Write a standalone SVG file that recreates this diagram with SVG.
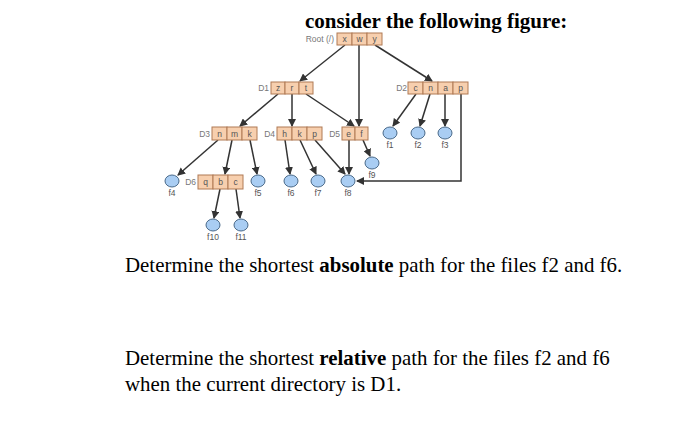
<svg xmlns="http://www.w3.org/2000/svg" width="700" height="438" viewBox="0 0 700 438">
<defs><marker id="a" markerWidth="8" markerHeight="8" refX="7" refY="4" orient="auto" markerUnits="userSpaceOnUse"><path d="M0,0L8,4L0,8z" fill="#333"/></marker>
<style>.c{fill:#f7cfae;stroke:#b07a55;stroke-width:1}.t{font-family:"Liberation Sans",sans-serif;font-size:8.5px;fill:#555;text-anchor:middle}.l{font-family:"Liberation Sans",sans-serif;font-size:8.5px;fill:#777}.f{fill:#a9cdf3;stroke:#4a6a8a;stroke-width:1}.e line,.e path{stroke:#333;stroke-width:1.5;fill:none;marker-end:url(#a)}.s{font-family:"Liberation Serif",serif;font-size:20.9px;fill:#000}</style></defs>
<rect width="700" height="438" fill="#fff"/>
<text x="305" y="28" font-family="Liberation Serif,serif" font-size="21" font-weight="bold">consider the following figure:</text>
<g id="edges" class="e">
<line x1="345" y1="45" x2="300" y2="81"/><line x1="359" y1="45" x2="359" y2="126"/><line x1="375" y1="45" x2="432" y2="81"/>
<line x1="278" y1="94" x2="240" y2="126"/><line x1="292" y1="94" x2="292" y2="126"/><line x1="306" y1="94" x2="354" y2="126"/>
<line x1="416" y1="94" x2="393" y2="126"/><line x1="430" y1="94" x2="420" y2="126"/><line x1="445" y1="94" x2="445" y2="126"/>
<path d="M461,94V181H357"/>
<line x1="218" y1="140" x2="178" y2="175"/><line x1="232" y1="140" x2="225" y2="174"/><line x1="250" y1="140" x2="257" y2="174"/>
<line x1="285" y1="140" x2="290" y2="174"/><line x1="300" y1="140" x2="316" y2="174"/><line x1="315" y1="140" x2="345" y2="174"/>
<line x1="349" y1="140" x2="349" y2="174"/><line x1="363" y1="140" x2="370" y2="156"/>
<line x1="220" y1="189" x2="214" y2="218"/><line x1="236" y1="189" x2="240" y2="218"/>
</g>
<g id="root"><text x="334" y="42" class="l" text-anchor="end">Root (/)</text><rect class="c" x="337" y="33" width="15" height="12"/><rect class="c" x="352" y="33" width="15" height="12"/><rect class="c" x="367" y="33" width="15" height="12"/><text class="t" x="344.5" y="42">x</text><text class="t" x="359.5" y="42">w</text><text class="t" x="374.5" y="42">y</text></g>
<g id="D1"><text x="269" y="91" class="l" text-anchor="end">D1</text><rect class="c" x="271" y="82" width="14" height="12"/><rect class="c" x="285" y="82" width="14" height="12"/><rect class="c" x="299" y="82" width="14" height="12"/><text class="t" x="278" y="91">z</text><text class="t" x="292" y="91">r</text><text class="t" x="306" y="91">t</text></g>
<g id="D2"><text x="407" y="91" class="l" text-anchor="end">D2</text><rect class="c" x="408" y="82" width="15" height="12"/><rect class="c" x="423" y="82" width="15" height="12"/><rect class="c" x="438" y="82" width="15" height="12"/><rect class="c" x="453" y="82" width="15" height="12"/><text class="t" x="415.5" y="91">c</text><text class="t" x="430.5" y="91">n</text><text class="t" x="445.5" y="91">a</text><text class="t" x="460.5" y="91">p</text></g>
<g id="D3"><text x="210" y="137" class="l" text-anchor="end">D3</text><rect class="c" x="212" y="127" width="15" height="13"/><rect class="c" x="227" y="127" width="15" height="13"/><rect class="c" x="242" y="127" width="15" height="13"/><text class="t" x="219.5" y="137">n</text><text class="t" x="234.5" y="137">m</text><text class="t" x="249.5" y="137">k</text></g>
<g id="D4"><text x="275" y="137" class="l" text-anchor="end">D4</text><rect class="c" x="277" y="127" width="15" height="13"/><rect class="c" x="292" y="127" width="15" height="13"/><rect class="c" x="307" y="127" width="15" height="13"/><text class="t" x="284.5" y="137">h</text><text class="t" x="299.5" y="137">k</text><text class="t" x="314.5" y="137">p</text></g>
<g id="D5"><text x="340" y="137" class="l" text-anchor="end">D5</text><rect class="c" x="342" y="127" width="13" height="13"/><rect class="c" x="355" y="127" width="13" height="13"/><text class="t" x="348.5" y="137">e</text><text class="t" x="361.5" y="137">f</text></g>
<g id="D6"><text x="196" y="185" class="l" text-anchor="end">D6</text><rect class="c" x="198" y="175" width="15" height="14"/><rect class="c" x="213" y="175" width="15" height="14"/><rect class="c" x="228" y="175" width="15" height="14"/><text class="t" x="205.5" y="185">q</text><text class="t" x="220.5" y="185">b</text><text class="t" x="235.5" y="185">c</text></g>
<g id="f1"><ellipse class="f" cx="390" cy="133" rx="7" ry="6"/><text class="t" x="390" y="148">f1</text></g>
<g id="f2"><ellipse class="f" cx="418" cy="133" rx="7" ry="6"/><text class="t" x="418" y="148">f2</text></g>
<g id="f3"><ellipse class="f" cx="445" cy="133" rx="7" ry="6"/><text class="t" x="445" y="148">f3</text></g>
<g id="f4"><ellipse class="f" cx="172" cy="181" rx="7" ry="6"/><text class="t" x="172" y="196">f4</text></g>
<g id="f5"><ellipse class="f" cx="258" cy="181" rx="7" ry="6"/><text class="t" x="258" y="196">f5</text></g>
<g id="f6"><ellipse class="f" cx="291" cy="181" rx="7" ry="6"/><text class="t" x="291" y="196">f6</text></g>
<g id="f7"><ellipse class="f" cx="318" cy="181" rx="7" ry="6"/><text class="t" x="318" y="196">f7</text></g>
<g id="f8"><ellipse class="f" cx="348" cy="181" rx="7" ry="6"/><text class="t" x="348" y="196">f8</text></g>
<g id="f9"><ellipse class="f" cx="372" cy="163" rx="7" ry="6"/><text class="t" x="372" y="178">f9</text></g>
<g id="f10"><ellipse class="f" cx="213" cy="225" rx="7" ry="6"/><text class="t" x="213" y="240">f10</text></g>
<g id="f11"><ellipse class="f" cx="241" cy="225" rx="7" ry="6"/><text class="t" x="241" y="240">f11</text></g>
<text class="s" x="125" y="272">Determine the shortest <tspan font-weight="bold">absolute</tspan> path for the files f2 and f6.</text>
<text class="s" x="125" y="365">Determine the shortest <tspan font-weight="bold">relative</tspan> path for the files f2 and f6</text>
<text class="s" x="125" y="391">when the current directory is D1.</text>
</svg>
